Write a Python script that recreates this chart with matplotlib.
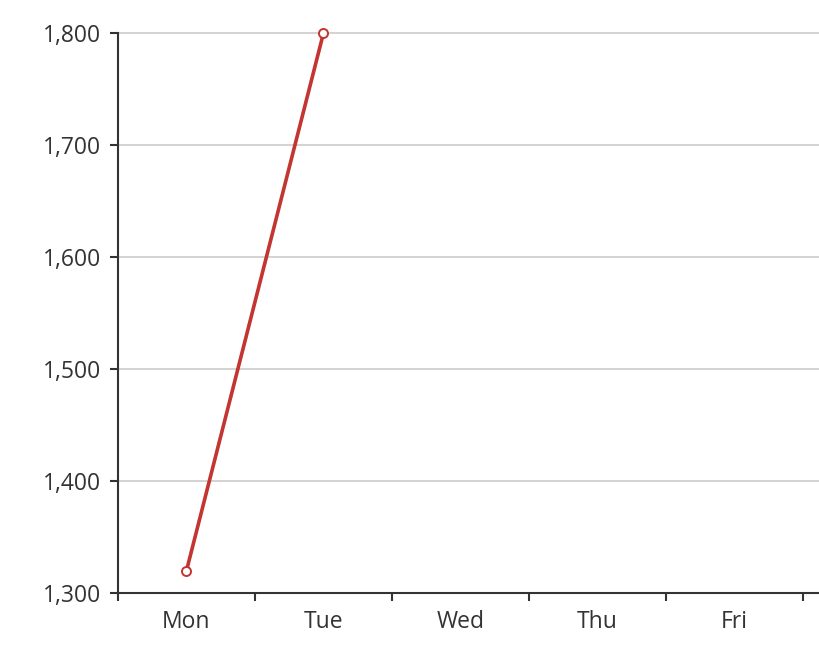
import numpy as np
import matplotlib.pyplot as plt
from matplotlib.ticker import FuncFormatter

days = ["Mon", "Tue", "Wed", "Thu", "Fri"]
values = [1320, 1800, np.nan, np.nan, np.nan]
y_ticks = [1300, 1400, 1500, 1600, 1700, 1800]

LINE_COLOR = "#c23531"
TEXT_COLOR = "#333333"

plt.rcParams["font.family"] = ["Open Sans", "DejaVu Sans"]

fig = plt.figure(figsize=(8.2, 6.65), dpi=100)
# grid runs off the right edge of the canvas, as in the reference
ax = fig.add_axes([118 / 820, 72 / 665, 702 / 820, 560 / 665])

x = np.arange(len(days))
ax.plot(x, values, color=LINE_COLOR, linewidth=2.6, marker="o", markersize=6.5,
        markerfacecolor="white", markeredgecolor=LINE_COLOR, markeredgewidth=1.4,
        zorder=3, clip_on=False)

ax.set_ylim(1300, 1800)
ax.set_yticks(y_ticks)
ax.yaxis.set_major_formatter(FuncFormatter(lambda v, p: f"{int(v):,}"))
ax.grid(axis="y", color="#cccccc", linewidth=1.2)
for gl in ax.get_ygridlines():
    gl.set_clip_on(False)
ax.set_axisbelow(True)

# category axis with boundary gap: ticks sit between categories
right = -0.5 + 702 / 137
ax.set_xlim(-0.5, right)
ax.set_xticks(np.arange(-0.5, len(days), 1.0))
ax.set_xticklabels([])
ax.set_xticks(x, minor=True)
ax.set_xticklabels(days, minor=True)
ax.tick_params(axis="x", which="minor", length=0, pad=12)
ax.tick_params(axis="x", which="major", length=6, width=1.5, color=TEXT_COLOR, direction="out")
ax.tick_params(axis="y", length=6, width=1.5, color=TEXT_COLOR, pad=6)
ax.tick_params(axis="both", which="both", labelsize=16.5, labelcolor=TEXT_COLOR)

for side in ["top", "right"]:
    ax.spines[side].set_visible(False)
for side in ["left", "bottom"]:
    ax.spines[side].set_color(TEXT_COLOR)
    ax.spines[side].set_linewidth(1.5)

fig.savefig("out.png", dpi=100)
